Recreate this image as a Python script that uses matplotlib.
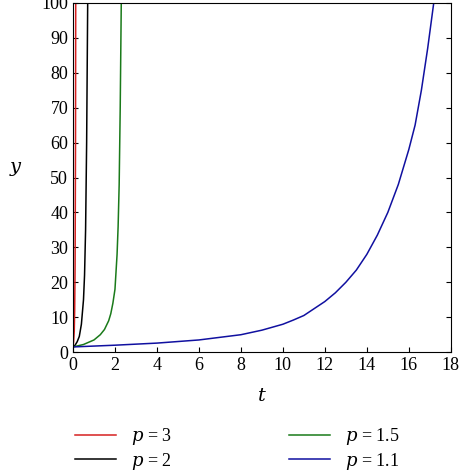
import matplotlib.pyplot as plt

plt.rcParams['font.family'] = ['Liberation Serif', 'DejaVu Serif']
plt.rcParams['mathtext.fontset'] = 'dejavuserif'

# values
t_p3 = [0, 0.03, 0.06, 0.08, 0.10, 0.12, 0.13]
y_p3 = [1.5, 3, 6, 12, 25, 60, 100]
t_p2 = [0, 0.1, 0.2, 0.3, 0.4, 0.5, 0.55, 0.6, 0.65, 0.7]
y_p2 = [1.5, 2, 3, 4.5, 8, 15, 22, 35, 60, 100]
t_p15 = [0, 0.5, 1.0, 1.3, 1.5, 1.7, 1.8, 1.9, 2.0, 2.1, 2.15, 2.2, 2.25, 2.3]
y_p15 = [1.5, 2.2, 3.5, 5, 6.5, 9, 11, 14, 18, 28, 36, 48, 70, 100]
t_p11 = [0, 2, 4, 6, 8, 9, 10, 10.5, 11, 11.5, 12, 12.5, 13, 13.5, 14, 14.5,
         15, 15.5, 16, 16.3, 16.6, 16.9, 17.1, 17.3]
y_p11 = [1.5, 2, 2.6, 3.5, 5, 6.3, 8, 9.2, 10.5, 12.5, 14.5, 17, 20, 23.5, 28, 33.5,
         40, 48, 58, 65, 75, 87, 96, 105]

fig = plt.figure(figsize=(4.74, 4.74), dpi=100)
ax = fig.add_axes([0.154, 0.257, 0.797, 0.737])
ax.plot(t_p3, y_p3, color='#d62020', lw=1.1, label='$p$ = 3')
ax.plot(t_p2, y_p2, color='black', lw=1.1, label='$p$ = 2')
ax.plot(t_p15, y_p15, color='#1a7a1a', lw=1.1, label='$p$ = 1.5')
ax.plot(t_p11, y_p11, color='#1010a0', lw=1.1, label='$p$ = 1.1')

ax.set_xlim(0, 18)
ax.set_ylim(0, 100)
ax.set_xticks(range(0, 19, 2))
ax.set_yticks(range(0, 101, 10))
ax.tick_params(direction='in', right=True, top=False, labelsize=13)
ax.set_xlabel('$t$', fontsize=14, labelpad=10)
ax.set_ylabel('$y$', fontsize=14, rotation=0, labelpad=18)

fig.legend(loc='center', bbox_to_anchor=(0.5, 0.053), ncol=2, frameon=False,
           fontsize=13, columnspacing=6.5, handlelength=2.3, labelspacing=0.2)
fig.savefig('out.png', dpi=100)
